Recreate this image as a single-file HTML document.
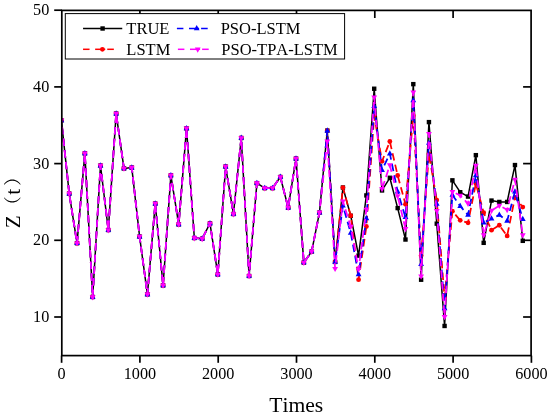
<!DOCTYPE html><html><head><meta charset="utf-8"><title>chart</title><style>html,body{margin:0;padding:0;background:#fff;}svg{display:block;}text{font-family:"Liberation Serif","Noto Serif CJK SC",serif;fill:#000;font-kerning:none;}</style></head><body>
<svg width="550" height="417" viewBox="0 0 550 417">
<rect width="550" height="417" fill="#fff"/>
<clipPath id="cp"><rect x="61.8" y="10.2" width="469.7" height="345"/></clipPath><g clip-path="url(#cp)">
<polyline points="61.40,120.42 69.22,193.59 77.04,243.21 84.86,153.40 92.68,296.98 100.50,165.59 108.32,230.02 116.14,113.59 123.96,168.43 131.78,167.59 139.60,236.62 147.42,294.37 155.24,203.64 163.06,285.40 170.88,175.41 178.70,224.42 186.52,128.39 194.34,238.00 202.16,238.77 209.98,223.43 217.80,274.43 225.62,166.59 233.44,213.99 241.26,137.98 249.08,275.97 256.90,183.16 264.72,188.14 272.54,188.14 280.36,177.02 288.18,207.63 296.00,158.61 303.82,262.54 311.64,251.57 319.46,212.61 327.28,130.62 335.10,261.93 342.92,187.53 350.74,215.76 358.56,255.64 366.38,195.43 374.20,88.74 382.02,190.44 389.84,177.79 397.66,208.09 405.48,239.53 413.30,84.14 421.12,279.72 428.94,122.11 436.76,223.66 444.58,325.97 452.40,180.32 460.22,192.21 468.04,196.58 475.86,155.16 483.68,242.83 491.50,200.57 499.32,201.95 507.14,201.95 514.96,165.06 522.78,240.84" fill="none" stroke="#000000" stroke-width="1.5" stroke-linejoin="round"/>
<rect x="59.20" y="118.22" width="4.4" height="4.4" fill="#000000"/>
<rect x="67.02" y="191.39" width="4.4" height="4.4" fill="#000000"/>
<rect x="74.84" y="241.01" width="4.4" height="4.4" fill="#000000"/>
<rect x="82.66" y="151.20" width="4.4" height="4.4" fill="#000000"/>
<rect x="90.48" y="294.78" width="4.4" height="4.4" fill="#000000"/>
<rect x="98.30" y="163.39" width="4.4" height="4.4" fill="#000000"/>
<rect x="106.12" y="227.82" width="4.4" height="4.4" fill="#000000"/>
<rect x="113.94" y="111.39" width="4.4" height="4.4" fill="#000000"/>
<rect x="121.76" y="166.23" width="4.4" height="4.4" fill="#000000"/>
<rect x="129.58" y="165.39" width="4.4" height="4.4" fill="#000000"/>
<rect x="137.40" y="234.42" width="4.4" height="4.4" fill="#000000"/>
<rect x="145.22" y="292.17" width="4.4" height="4.4" fill="#000000"/>
<rect x="153.04" y="201.44" width="4.4" height="4.4" fill="#000000"/>
<rect x="160.86" y="283.20" width="4.4" height="4.4" fill="#000000"/>
<rect x="168.68" y="173.21" width="4.4" height="4.4" fill="#000000"/>
<rect x="176.50" y="222.22" width="4.4" height="4.4" fill="#000000"/>
<rect x="184.32" y="126.19" width="4.4" height="4.4" fill="#000000"/>
<rect x="192.14" y="235.80" width="4.4" height="4.4" fill="#000000"/>
<rect x="199.96" y="236.57" width="4.4" height="4.4" fill="#000000"/>
<rect x="207.78" y="221.23" width="4.4" height="4.4" fill="#000000"/>
<rect x="215.60" y="272.23" width="4.4" height="4.4" fill="#000000"/>
<rect x="223.42" y="164.39" width="4.4" height="4.4" fill="#000000"/>
<rect x="231.24" y="211.79" width="4.4" height="4.4" fill="#000000"/>
<rect x="239.06" y="135.78" width="4.4" height="4.4" fill="#000000"/>
<rect x="246.88" y="273.77" width="4.4" height="4.4" fill="#000000"/>
<rect x="254.70" y="180.96" width="4.4" height="4.4" fill="#000000"/>
<rect x="262.52" y="185.94" width="4.4" height="4.4" fill="#000000"/>
<rect x="270.34" y="185.94" width="4.4" height="4.4" fill="#000000"/>
<rect x="278.16" y="174.82" width="4.4" height="4.4" fill="#000000"/>
<rect x="285.98" y="205.43" width="4.4" height="4.4" fill="#000000"/>
<rect x="293.80" y="156.41" width="4.4" height="4.4" fill="#000000"/>
<rect x="301.62" y="260.34" width="4.4" height="4.4" fill="#000000"/>
<rect x="309.44" y="249.37" width="4.4" height="4.4" fill="#000000"/>
<rect x="317.26" y="210.41" width="4.4" height="4.4" fill="#000000"/>
<rect x="325.08" y="128.42" width="4.4" height="4.4" fill="#000000"/>
<rect x="332.90" y="259.73" width="4.4" height="4.4" fill="#000000"/>
<rect x="340.72" y="185.33" width="4.4" height="4.4" fill="#000000"/>
<rect x="348.54" y="213.56" width="4.4" height="4.4" fill="#000000"/>
<rect x="356.36" y="253.44" width="4.4" height="4.4" fill="#000000"/>
<rect x="364.18" y="193.23" width="4.4" height="4.4" fill="#000000"/>
<rect x="372.00" y="86.54" width="4.4" height="4.4" fill="#000000"/>
<rect x="379.82" y="188.25" width="4.4" height="4.4" fill="#000000"/>
<rect x="387.64" y="175.59" width="4.4" height="4.4" fill="#000000"/>
<rect x="395.46" y="205.89" width="4.4" height="4.4" fill="#000000"/>
<rect x="403.28" y="237.33" width="4.4" height="4.4" fill="#000000"/>
<rect x="411.10" y="81.94" width="4.4" height="4.4" fill="#000000"/>
<rect x="418.92" y="277.52" width="4.4" height="4.4" fill="#000000"/>
<rect x="426.74" y="119.91" width="4.4" height="4.4" fill="#000000"/>
<rect x="434.56" y="221.46" width="4.4" height="4.4" fill="#000000"/>
<rect x="442.38" y="323.77" width="4.4" height="4.4" fill="#000000"/>
<rect x="450.20" y="178.12" width="4.4" height="4.4" fill="#000000"/>
<rect x="458.02" y="190.01" width="4.4" height="4.4" fill="#000000"/>
<rect x="465.84" y="194.38" width="4.4" height="4.4" fill="#000000"/>
<rect x="473.66" y="152.96" width="4.4" height="4.4" fill="#000000"/>
<rect x="481.48" y="240.63" width="4.4" height="4.4" fill="#000000"/>
<rect x="489.30" y="198.37" width="4.4" height="4.4" fill="#000000"/>
<rect x="497.12" y="199.75" width="4.4" height="4.4" fill="#000000"/>
<rect x="504.94" y="199.75" width="4.4" height="4.4" fill="#000000"/>
<rect x="512.76" y="162.86" width="4.4" height="4.4" fill="#000000"/>
<rect x="520.58" y="238.64" width="4.4" height="4.4" fill="#000000"/>
<polyline points="61.40,120.42 69.22,193.59 77.04,243.21 84.86,153.40 92.68,296.98 100.50,165.59 108.32,230.02 116.14,113.59 123.96,168.43 131.78,167.59 139.60,236.62 147.42,294.37 155.24,203.64 163.06,285.40 170.88,175.41 178.70,224.42 186.52,128.39 194.34,238.00 202.16,238.77 209.98,223.43 217.80,274.43 225.62,166.59 233.44,213.99 241.26,137.98 249.08,275.97 256.90,183.16 264.72,188.14 272.54,188.14 280.36,177.02 288.18,207.63 296.00,158.61 303.82,262.54 311.64,251.57 319.46,212.61 327.28,130.62 335.10,261.93 342.92,187.53 350.74,215.76 358.56,279.65 366.38,226.49 374.20,115.74 382.02,161.30 389.84,141.51 397.66,175.49 405.48,204.25 413.30,115.74 421.12,255.64 428.94,153.94 436.76,200.03 444.58,297.82 452.40,211.15 460.22,220.36 468.04,222.81 475.86,183.54 483.68,212.69 491.50,230.18 499.32,225.27 507.14,235.93 514.96,197.35 522.78,207.09" fill="none" stroke="#ff0000" stroke-width="1.75" stroke-linejoin="round" stroke-dasharray="7.5 4.2" stroke-dashoffset="5.2"/>
<circle cx="61.40" cy="120.42" r="2.4" fill="#ff0000"/>
<circle cx="69.22" cy="193.59" r="2.4" fill="#ff0000"/>
<circle cx="77.04" cy="243.21" r="2.4" fill="#ff0000"/>
<circle cx="84.86" cy="153.40" r="2.4" fill="#ff0000"/>
<circle cx="92.68" cy="296.98" r="2.4" fill="#ff0000"/>
<circle cx="100.50" cy="165.59" r="2.4" fill="#ff0000"/>
<circle cx="108.32" cy="230.02" r="2.4" fill="#ff0000"/>
<circle cx="116.14" cy="113.59" r="2.4" fill="#ff0000"/>
<circle cx="123.96" cy="168.43" r="2.4" fill="#ff0000"/>
<circle cx="131.78" cy="167.59" r="2.4" fill="#ff0000"/>
<circle cx="139.60" cy="236.62" r="2.4" fill="#ff0000"/>
<circle cx="147.42" cy="294.37" r="2.4" fill="#ff0000"/>
<circle cx="155.24" cy="203.64" r="2.4" fill="#ff0000"/>
<circle cx="163.06" cy="285.40" r="2.4" fill="#ff0000"/>
<circle cx="170.88" cy="175.41" r="2.4" fill="#ff0000"/>
<circle cx="178.70" cy="224.42" r="2.4" fill="#ff0000"/>
<circle cx="186.52" cy="128.39" r="2.4" fill="#ff0000"/>
<circle cx="194.34" cy="238.00" r="2.4" fill="#ff0000"/>
<circle cx="202.16" cy="238.77" r="2.4" fill="#ff0000"/>
<circle cx="209.98" cy="223.43" r="2.4" fill="#ff0000"/>
<circle cx="217.80" cy="274.43" r="2.4" fill="#ff0000"/>
<circle cx="225.62" cy="166.59" r="2.4" fill="#ff0000"/>
<circle cx="233.44" cy="213.99" r="2.4" fill="#ff0000"/>
<circle cx="241.26" cy="137.98" r="2.4" fill="#ff0000"/>
<circle cx="249.08" cy="275.97" r="2.4" fill="#ff0000"/>
<circle cx="256.90" cy="183.16" r="2.4" fill="#ff0000"/>
<circle cx="264.72" cy="188.14" r="2.4" fill="#ff0000"/>
<circle cx="272.54" cy="188.14" r="2.4" fill="#ff0000"/>
<circle cx="280.36" cy="177.02" r="2.4" fill="#ff0000"/>
<circle cx="288.18" cy="207.63" r="2.4" fill="#ff0000"/>
<circle cx="296.00" cy="158.61" r="2.4" fill="#ff0000"/>
<circle cx="303.82" cy="262.54" r="2.4" fill="#ff0000"/>
<circle cx="311.64" cy="251.57" r="2.4" fill="#ff0000"/>
<circle cx="319.46" cy="212.61" r="2.4" fill="#ff0000"/>
<circle cx="327.28" cy="130.62" r="2.4" fill="#ff0000"/>
<circle cx="335.10" cy="261.93" r="2.4" fill="#ff0000"/>
<circle cx="342.92" cy="187.53" r="2.4" fill="#ff0000"/>
<circle cx="350.74" cy="215.76" r="2.4" fill="#ff0000"/>
<circle cx="358.56" cy="279.65" r="2.4" fill="#ff0000"/>
<circle cx="366.38" cy="226.49" r="2.4" fill="#ff0000"/>
<circle cx="374.20" cy="115.74" r="2.4" fill="#ff0000"/>
<circle cx="382.02" cy="161.30" r="2.4" fill="#ff0000"/>
<circle cx="389.84" cy="141.51" r="2.4" fill="#ff0000"/>
<circle cx="397.66" cy="175.49" r="2.4" fill="#ff0000"/>
<circle cx="405.48" cy="204.25" r="2.4" fill="#ff0000"/>
<circle cx="413.30" cy="115.74" r="2.4" fill="#ff0000"/>
<circle cx="421.12" cy="255.64" r="2.4" fill="#ff0000"/>
<circle cx="428.94" cy="153.94" r="2.4" fill="#ff0000"/>
<circle cx="436.76" cy="200.03" r="2.4" fill="#ff0000"/>
<circle cx="444.58" cy="297.82" r="2.4" fill="#ff0000"/>
<circle cx="452.40" cy="211.15" r="2.4" fill="#ff0000"/>
<circle cx="460.22" cy="220.36" r="2.4" fill="#ff0000"/>
<circle cx="468.04" cy="222.81" r="2.4" fill="#ff0000"/>
<circle cx="475.86" cy="183.54" r="2.4" fill="#ff0000"/>
<circle cx="483.68" cy="212.69" r="2.4" fill="#ff0000"/>
<circle cx="491.50" cy="230.18" r="2.4" fill="#ff0000"/>
<circle cx="499.32" cy="225.27" r="2.4" fill="#ff0000"/>
<circle cx="507.14" cy="235.93" r="2.4" fill="#ff0000"/>
<circle cx="514.96" cy="197.35" r="2.4" fill="#ff0000"/>
<circle cx="522.78" cy="207.09" r="2.4" fill="#ff0000"/>
<polyline points="61.40,120.42 69.22,193.59 77.04,243.21 84.86,153.40 92.68,296.98 100.50,165.59 108.32,230.02 116.14,113.59 123.96,168.43 131.78,167.59 139.60,236.62 147.42,294.37 155.24,203.64 163.06,285.40 170.88,175.41 178.70,224.42 186.52,128.39 194.34,238.00 202.16,238.77 209.98,223.43 217.80,274.43 225.62,166.59 233.44,213.99 241.26,137.98 249.08,275.97 256.90,183.16 264.72,188.14 272.54,188.14 280.36,177.02 288.18,207.63 296.00,158.61 303.82,262.54 311.64,251.57 319.46,212.61 327.28,130.62 335.10,261.93 342.92,205.78 350.74,233.01 358.56,274.43 366.38,218.44 374.20,106.23 382.02,170.20 389.84,153.63 397.66,191.67 405.48,217.29 413.30,100.48 421.12,264.23 428.94,143.04 436.76,203.87 444.58,308.56 452.40,195.05 460.22,206.17 468.04,214.99 475.86,175.41 483.68,222.81 491.50,218.75 499.32,214.99 507.14,220.89 514.96,191.75 522.78,219.21" fill="none" stroke="#0000ff" stroke-width="1.75" stroke-linejoin="round" stroke-dasharray="7.5 4.2" stroke-dashoffset="5.2"/>
<path d="M61.40 117.02L64.30 122.22L58.50 122.22Z" fill="#0000ff"/>
<path d="M69.22 190.19L72.12 195.39L66.32 195.39Z" fill="#0000ff"/>
<path d="M77.04 239.81L79.94 245.01L74.14 245.01Z" fill="#0000ff"/>
<path d="M84.86 150.00L87.76 155.20L81.96 155.20Z" fill="#0000ff"/>
<path d="M92.68 293.58L95.58 298.78L89.78 298.78Z" fill="#0000ff"/>
<path d="M100.50 162.19L103.40 167.39L97.60 167.39Z" fill="#0000ff"/>
<path d="M108.32 226.62L111.22 231.82L105.42 231.82Z" fill="#0000ff"/>
<path d="M116.14 110.19L119.04 115.39L113.24 115.39Z" fill="#0000ff"/>
<path d="M123.96 165.03L126.86 170.23L121.06 170.23Z" fill="#0000ff"/>
<path d="M131.78 164.19L134.68 169.39L128.88 169.39Z" fill="#0000ff"/>
<path d="M139.60 233.22L142.50 238.42L136.70 238.42Z" fill="#0000ff"/>
<path d="M147.42 290.97L150.32 296.17L144.52 296.17Z" fill="#0000ff"/>
<path d="M155.24 200.24L158.14 205.44L152.34 205.44Z" fill="#0000ff"/>
<path d="M163.06 282.00L165.96 287.20L160.16 287.20Z" fill="#0000ff"/>
<path d="M170.88 172.01L173.78 177.21L167.98 177.21Z" fill="#0000ff"/>
<path d="M178.70 221.02L181.60 226.22L175.80 226.22Z" fill="#0000ff"/>
<path d="M186.52 124.99L189.42 130.19L183.62 130.19Z" fill="#0000ff"/>
<path d="M194.34 234.60L197.24 239.80L191.44 239.80Z" fill="#0000ff"/>
<path d="M202.16 235.37L205.06 240.57L199.26 240.57Z" fill="#0000ff"/>
<path d="M209.98 220.03L212.88 225.23L207.08 225.23Z" fill="#0000ff"/>
<path d="M217.80 271.03L220.70 276.23L214.90 276.23Z" fill="#0000ff"/>
<path d="M225.62 163.19L228.52 168.39L222.72 168.39Z" fill="#0000ff"/>
<path d="M233.44 210.59L236.34 215.79L230.54 215.79Z" fill="#0000ff"/>
<path d="M241.26 134.58L244.16 139.78L238.36 139.78Z" fill="#0000ff"/>
<path d="M249.08 272.57L251.98 277.77L246.18 277.77Z" fill="#0000ff"/>
<path d="M256.90 179.76L259.80 184.96L254.00 184.96Z" fill="#0000ff"/>
<path d="M264.72 184.74L267.62 189.94L261.82 189.94Z" fill="#0000ff"/>
<path d="M272.54 184.74L275.44 189.94L269.64 189.94Z" fill="#0000ff"/>
<path d="M280.36 173.62L283.26 178.82L277.46 178.82Z" fill="#0000ff"/>
<path d="M288.18 204.23L291.08 209.43L285.28 209.43Z" fill="#0000ff"/>
<path d="M296.00 155.21L298.90 160.41L293.10 160.41Z" fill="#0000ff"/>
<path d="M303.82 259.14L306.72 264.34L300.92 264.34Z" fill="#0000ff"/>
<path d="M311.64 248.17L314.54 253.37L308.74 253.37Z" fill="#0000ff"/>
<path d="M319.46 209.21L322.36 214.41L316.56 214.41Z" fill="#0000ff"/>
<path d="M327.28 127.22L330.18 132.42L324.38 132.42Z" fill="#0000ff"/>
<path d="M335.10 258.53L338.00 263.73L332.20 263.73Z" fill="#0000ff"/>
<path d="M342.92 202.38L345.82 207.59L340.02 207.59Z" fill="#0000ff"/>
<path d="M350.74 229.61L353.64 234.81L347.84 234.81Z" fill="#0000ff"/>
<path d="M358.56 271.03L361.46 276.23L355.66 276.23Z" fill="#0000ff"/>
<path d="M366.38 215.04L369.28 220.24L363.48 220.24Z" fill="#0000ff"/>
<path d="M374.20 102.83L377.10 108.03L371.30 108.03Z" fill="#0000ff"/>
<path d="M382.02 166.80L384.92 172.00L379.12 172.00Z" fill="#0000ff"/>
<path d="M389.84 150.23L392.74 155.43L386.94 155.43Z" fill="#0000ff"/>
<path d="M397.66 188.27L400.56 193.47L394.76 193.47Z" fill="#0000ff"/>
<path d="M405.48 213.89L408.38 219.09L402.58 219.09Z" fill="#0000ff"/>
<path d="M413.30 97.08L416.20 102.28L410.40 102.28Z" fill="#0000ff"/>
<path d="M421.12 260.83L424.02 266.03L418.22 266.03Z" fill="#0000ff"/>
<path d="M428.94 139.64L431.84 144.84L426.04 144.84Z" fill="#0000ff"/>
<path d="M436.76 200.47L439.66 205.67L433.86 205.67Z" fill="#0000ff"/>
<path d="M444.58 305.16L447.48 310.36L441.68 310.36Z" fill="#0000ff"/>
<path d="M452.40 191.65L455.30 196.85L449.50 196.85Z" fill="#0000ff"/>
<path d="M460.22 202.77L463.12 207.97L457.32 207.97Z" fill="#0000ff"/>
<path d="M468.04 211.59L470.94 216.79L465.14 216.79Z" fill="#0000ff"/>
<path d="M475.86 172.01L478.76 177.21L472.96 177.21Z" fill="#0000ff"/>
<path d="M483.68 219.41L486.58 224.61L480.78 224.61Z" fill="#0000ff"/>
<path d="M491.50 215.35L494.40 220.55L488.60 220.55Z" fill="#0000ff"/>
<path d="M499.32 211.59L502.22 216.79L496.42 216.79Z" fill="#0000ff"/>
<path d="M507.14 217.49L510.04 222.69L504.24 222.69Z" fill="#0000ff"/>
<path d="M514.96 188.35L517.86 193.55L512.06 193.55Z" fill="#0000ff"/>
<path d="M522.78 215.81L525.68 221.01L519.88 221.01Z" fill="#0000ff"/>
<polyline points="61.40,120.42 69.22,193.59 77.04,243.21 84.86,153.40 92.68,296.98 100.50,165.59 108.32,230.02 116.14,113.59 123.96,168.43 131.78,167.59 139.60,236.62 147.42,294.37 155.24,203.64 163.06,285.40 170.88,175.41 178.70,224.42 186.52,128.39 194.34,238.00 202.16,238.77 209.98,223.43 217.80,274.43 225.62,166.59 233.44,213.99 241.26,137.98 249.08,275.97 256.90,183.16 264.72,188.14 272.54,188.14 280.36,177.02 288.18,207.63 296.00,158.61 303.82,262.54 311.64,251.57 319.46,212.61 327.28,141.36 335.10,268.68 342.92,201.18 350.74,226.49 358.56,269.45 366.38,209.62 374.20,97.25 382.02,188.91 389.84,165.13 397.66,196.12 405.48,228.79 413.30,92.27 421.12,276.35 428.94,133.92 436.76,210.92 444.58,316.77 452.40,191.75 460.22,195.43 468.04,203.64 475.86,165.52 483.68,235.08 491.50,210.54 499.32,205.63 507.14,209.77 514.96,179.48 522.78,235.08" fill="none" stroke="#ff00ff" stroke-width="1.75" stroke-linejoin="round" stroke-dasharray="7.5 4.2" stroke-dashoffset="5.2"/>
<path d="M61.40 123.82L64.30 118.62L58.50 118.62Z" fill="#ff00ff"/>
<path d="M69.22 196.99L72.12 191.79L66.32 191.79Z" fill="#ff00ff"/>
<path d="M77.04 246.61L79.94 241.41L74.14 241.41Z" fill="#ff00ff"/>
<path d="M84.86 156.80L87.76 151.60L81.96 151.60Z" fill="#ff00ff"/>
<path d="M92.68 300.38L95.58 295.18L89.78 295.18Z" fill="#ff00ff"/>
<path d="M100.50 168.99L103.40 163.79L97.60 163.79Z" fill="#ff00ff"/>
<path d="M108.32 233.42L111.22 228.22L105.42 228.22Z" fill="#ff00ff"/>
<path d="M116.14 116.99L119.04 111.79L113.24 111.79Z" fill="#ff00ff"/>
<path d="M123.96 171.83L126.86 166.63L121.06 166.63Z" fill="#ff00ff"/>
<path d="M131.78 170.99L134.68 165.79L128.88 165.79Z" fill="#ff00ff"/>
<path d="M139.60 240.02L142.50 234.82L136.70 234.82Z" fill="#ff00ff"/>
<path d="M147.42 297.77L150.32 292.57L144.52 292.57Z" fill="#ff00ff"/>
<path d="M155.24 207.04L158.14 201.84L152.34 201.84Z" fill="#ff00ff"/>
<path d="M163.06 288.80L165.96 283.60L160.16 283.60Z" fill="#ff00ff"/>
<path d="M170.88 178.81L173.78 173.61L167.98 173.61Z" fill="#ff00ff"/>
<path d="M178.70 227.82L181.60 222.62L175.80 222.62Z" fill="#ff00ff"/>
<path d="M186.52 131.79L189.42 126.59L183.62 126.59Z" fill="#ff00ff"/>
<path d="M194.34 241.40L197.24 236.20L191.44 236.20Z" fill="#ff00ff"/>
<path d="M202.16 242.17L205.06 236.97L199.26 236.97Z" fill="#ff00ff"/>
<path d="M209.98 226.83L212.88 221.63L207.08 221.63Z" fill="#ff00ff"/>
<path d="M217.80 277.83L220.70 272.63L214.90 272.63Z" fill="#ff00ff"/>
<path d="M225.62 169.99L228.52 164.79L222.72 164.79Z" fill="#ff00ff"/>
<path d="M233.44 217.39L236.34 212.19L230.54 212.19Z" fill="#ff00ff"/>
<path d="M241.26 141.38L244.16 136.18L238.36 136.18Z" fill="#ff00ff"/>
<path d="M249.08 279.37L251.98 274.17L246.18 274.17Z" fill="#ff00ff"/>
<path d="M256.90 186.56L259.80 181.36L254.00 181.36Z" fill="#ff00ff"/>
<path d="M264.72 191.54L267.62 186.34L261.82 186.34Z" fill="#ff00ff"/>
<path d="M272.54 191.54L275.44 186.34L269.64 186.34Z" fill="#ff00ff"/>
<path d="M280.36 180.42L283.26 175.22L277.46 175.22Z" fill="#ff00ff"/>
<path d="M288.18 211.03L291.08 205.83L285.28 205.83Z" fill="#ff00ff"/>
<path d="M296.00 162.01L298.90 156.81L293.10 156.81Z" fill="#ff00ff"/>
<path d="M303.82 265.94L306.72 260.74L300.92 260.74Z" fill="#ff00ff"/>
<path d="M311.64 254.97L314.54 249.77L308.74 249.77Z" fill="#ff00ff"/>
<path d="M319.46 216.01L322.36 210.81L316.56 210.81Z" fill="#ff00ff"/>
<path d="M327.28 144.76L330.18 139.56L324.38 139.56Z" fill="#ff00ff"/>
<path d="M335.10 272.08L338.00 266.88L332.20 266.88Z" fill="#ff00ff"/>
<path d="M342.92 204.58L345.82 199.38L340.02 199.38Z" fill="#ff00ff"/>
<path d="M350.74 229.89L353.64 224.69L347.84 224.69Z" fill="#ff00ff"/>
<path d="M358.56 272.85L361.46 267.65L355.66 267.65Z" fill="#ff00ff"/>
<path d="M366.38 213.02L369.28 207.82L363.48 207.82Z" fill="#ff00ff"/>
<path d="M374.20 100.65L377.10 95.45L371.30 95.45Z" fill="#ff00ff"/>
<path d="M382.02 192.31L384.92 187.11L379.12 187.11Z" fill="#ff00ff"/>
<path d="M389.84 168.53L392.74 163.33L386.94 163.33Z" fill="#ff00ff"/>
<path d="M397.66 199.52L400.56 194.32L394.76 194.32Z" fill="#ff00ff"/>
<path d="M405.48 232.19L408.38 226.99L402.58 226.99Z" fill="#ff00ff"/>
<path d="M413.30 95.67L416.20 90.47L410.40 90.47Z" fill="#ff00ff"/>
<path d="M421.12 279.75L424.02 274.55L418.22 274.55Z" fill="#ff00ff"/>
<path d="M428.94 137.32L431.84 132.12L426.04 132.12Z" fill="#ff00ff"/>
<path d="M436.76 214.32L439.66 209.12L433.86 209.12Z" fill="#ff00ff"/>
<path d="M444.58 320.17L447.48 314.97L441.68 314.97Z" fill="#ff00ff"/>
<path d="M452.40 195.15L455.30 189.95L449.50 189.95Z" fill="#ff00ff"/>
<path d="M460.22 198.83L463.12 193.63L457.32 193.63Z" fill="#ff00ff"/>
<path d="M468.04 207.04L470.94 201.84L465.14 201.84Z" fill="#ff00ff"/>
<path d="M475.86 168.92L478.76 163.72L472.96 163.72Z" fill="#ff00ff"/>
<path d="M483.68 238.48L486.58 233.28L480.78 233.28Z" fill="#ff00ff"/>
<path d="M491.50 213.94L494.40 208.74L488.60 208.74Z" fill="#ff00ff"/>
<path d="M499.32 209.03L502.22 203.83L496.42 203.83Z" fill="#ff00ff"/>
<path d="M507.14 213.17L510.04 207.97L504.24 207.97Z" fill="#ff00ff"/>
<path d="M514.96 182.88L517.86 177.68L512.06 177.68Z" fill="#ff00ff"/>
<path d="M522.78 238.48L525.68 233.28L519.88 233.28Z" fill="#ff00ff"/>
</g>
<rect x="61.8" y="10.4" width="469.3" height="345.20000000000005" fill="none" stroke="#000" stroke-width="1.7"/>
<line x1="61.60" y1="355.6" x2="61.60" y2="362.8" stroke="#000" stroke-width="1.7"/>
<text x="61.60" y="379.4" font-size="16.2" text-anchor="middle">0</text>
<line x1="139.90" y1="355.6" x2="139.90" y2="362.8" stroke="#000" stroke-width="1.7"/>
<line x1="139.90" y1="10.4" x2="139.90" y2="18.0" stroke="#000" stroke-width="1.7"/>
<text x="139.90" y="379.4" font-size="16.2" text-anchor="middle">1000</text>
<line x1="218.20" y1="355.6" x2="218.20" y2="362.8" stroke="#000" stroke-width="1.7"/>
<line x1="218.20" y1="10.4" x2="218.20" y2="18.0" stroke="#000" stroke-width="1.7"/>
<text x="218.20" y="379.4" font-size="16.2" text-anchor="middle">2000</text>
<line x1="296.50" y1="355.6" x2="296.50" y2="362.8" stroke="#000" stroke-width="1.7"/>
<line x1="296.50" y1="10.4" x2="296.50" y2="18.0" stroke="#000" stroke-width="1.7"/>
<text x="296.50" y="379.4" font-size="16.2" text-anchor="middle">3000</text>
<line x1="374.80" y1="355.6" x2="374.80" y2="362.8" stroke="#000" stroke-width="1.7"/>
<line x1="374.80" y1="10.4" x2="374.80" y2="18.0" stroke="#000" stroke-width="1.7"/>
<text x="374.80" y="379.4" font-size="16.2" text-anchor="middle">4000</text>
<line x1="453.10" y1="355.6" x2="453.10" y2="362.8" stroke="#000" stroke-width="1.7"/>
<line x1="453.10" y1="10.4" x2="453.10" y2="18.0" stroke="#000" stroke-width="1.7"/>
<text x="453.10" y="379.4" font-size="16.2" text-anchor="middle">5000</text>
<line x1="531.40" y1="355.6" x2="531.40" y2="362.8" stroke="#000" stroke-width="1.7"/>
<text x="531.40" y="379.4" font-size="16.2" text-anchor="middle">6000</text>
<line x1="54.199999999999996" y1="317.00" x2="61.8" y2="317.00" stroke="#000" stroke-width="1.7"/>
<line x1="523.1" y1="317.00" x2="531.1" y2="317.00" stroke="#000" stroke-width="1.7"/>
<text x="49.3" y="321.90" font-size="16.2" text-anchor="end">10</text>
<line x1="54.199999999999996" y1="240.30" x2="61.8" y2="240.30" stroke="#000" stroke-width="1.7"/>
<line x1="523.1" y1="240.30" x2="531.1" y2="240.30" stroke="#000" stroke-width="1.7"/>
<text x="49.3" y="245.20" font-size="16.2" text-anchor="end">20</text>
<line x1="54.199999999999996" y1="163.60" x2="61.8" y2="163.60" stroke="#000" stroke-width="1.7"/>
<line x1="523.1" y1="163.60" x2="531.1" y2="163.60" stroke="#000" stroke-width="1.7"/>
<text x="49.3" y="168.50" font-size="16.2" text-anchor="end">30</text>
<line x1="54.199999999999996" y1="86.90" x2="61.8" y2="86.90" stroke="#000" stroke-width="1.7"/>
<line x1="523.1" y1="86.90" x2="531.1" y2="86.90" stroke="#000" stroke-width="1.7"/>
<text x="49.3" y="91.80" font-size="16.2" text-anchor="end">40</text>
<line x1="54.199999999999996" y1="10.20" x2="61.8" y2="10.20" stroke="#000" stroke-width="1.7"/>
<text x="49.3" y="15.10" font-size="16.2" text-anchor="end">50</text>
<rect x="65.3" y="13.6" width="279.3" height="45.4" fill="#fff" stroke="#000" stroke-width="1"/>
<line x1="83.05" y1="28.5" x2="122.25" y2="28.5" stroke="#000000" stroke-width="1.5"/>
<rect x="100.40" y="26.30" width="4.4" height="4.4" fill="#000000"/>
<line x1="83.05" y1="49.3" x2="89.55" y2="49.3" stroke="#ff0000" stroke-width="1.5"/>
<line x1="95.14999999999999" y1="49.3" x2="105.25" y2="49.3" stroke="#ff0000" stroke-width="1.5"/>
<line x1="107.25" y1="49.3" x2="113.85" y2="49.3" stroke="#ff0000" stroke-width="1.5"/>
<circle cx="102.40" cy="49.30" r="2.4" fill="#ff0000"/>
<line x1="176.9" y1="28.5" x2="183.4" y2="28.5" stroke="#0000ff" stroke-width="1.5"/>
<line x1="189.0" y1="28.5" x2="199.1" y2="28.5" stroke="#0000ff" stroke-width="1.5"/>
<line x1="201.1" y1="28.5" x2="207.70000000000002" y2="28.5" stroke="#0000ff" stroke-width="1.5"/>
<path d="M196.70 25.10L199.60 30.30L193.80 30.30Z" fill="#0000ff"/>
<line x1="177.9" y1="49.3" x2="184.4" y2="49.3" stroke="#ff00ff" stroke-width="1.5"/>
<line x1="190.0" y1="49.3" x2="200.1" y2="49.3" stroke="#ff00ff" stroke-width="1.5"/>
<line x1="202.1" y1="49.3" x2="208.70000000000002" y2="49.3" stroke="#ff00ff" stroke-width="1.5"/>
<path d="M197.70 52.70L200.60 47.50L194.80 47.50Z" fill="#ff00ff"/>
<text x="126.3" y="34" font-size="16.5">TRUE</text>
<text x="126.3" y="54.8" font-size="16.5">LSTM</text>
<text x="220.7" y="34" font-size="16.5">PSO-LSTM</text>
<text x="221.3" y="54.8" font-size="16.5">PSO-TPA-LSTM</text>
<text x="296.3" y="412.3" font-size="21.6" text-anchor="middle">Times</text>
<text transform="translate(19.7 228.2) rotate(-90)" font-size="21.3">Z<tspan font-size="17.7" dx="1.1" dy="-1.1">（</tspan><tspan dx="1.7" dy="1.1">t</tspan><tspan font-size="17.7" dx="3.1" dy="-1.1">）</tspan></text>
</svg></body></html>
